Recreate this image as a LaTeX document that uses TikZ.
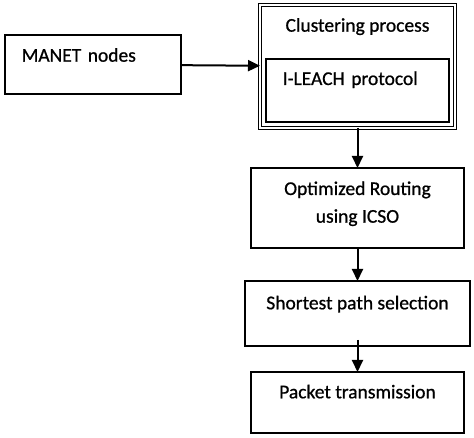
\documentclass[tikz,border=0pt]{standalone}
\usepackage{fontspec}
\setmainfont{Carlito}[FakeBold=0.8]
\usetikzlibrary{positioning}
\usetikzlibrary{fit}
\usetikzlibrary{arrows.meta}
\tikzset{
  myarrow/.style={
    draw=black,
    line width=2pt,
    -{Triangle[length=12pt,width=11pt]},
  },
  mybox/.style={
    draw=black,
    shape=rectangle,
    line width=1.8pt,
    align=center,
    inner xsep=0pt,
    inner ysep=0pt,
    outer sep=0pt,
    font=\fontsize{19.5}{27.7}\selectfont
  },
  myframe/.style={
    draw=black,
    double,
    double distance=1.3pt,
    line width=1.2pt,
    inner sep=6pt,
    outer sep=0pt,
  },
}

\begin{document}
\begin{tikzpicture}[x=1pt,y=1pt]
    \useasboundingbox (0,0) rectangle (474,-438);

    \node[mybox, align=left, text width=142.6pt, inner xsep=16.7pt, text height=26.7pt, text depth=32.3pt] (manet) at (93,-64.5) {MANET nodes};

    \node[mybox, align=left, text width=149.6pt, inner xsep=16.7pt, text height=26pt, text depth=37pt] (ileach) at (357.5,-90.5) {I-LEACH protocol};
    \node[mybox, draw=none, text height=20.7pt, text depth=5pt] (clustertitle) [above=22.3pt of ileach] {Clustering process};
    \node[myframe, fit=(clustertitle)(ileach)] (cluster) {};

    \node[mybox, minimum width=213pt, text height=54.7pt, text depth=25.3pt] (routing) [below=40pt of cluster] {Optimized Routing\\using ICSO};
    \node[mybox, minimum width=225pt, text height=28.3pt, text depth=36.7pt] (shortest) [below=33pt of routing] {Shortest path selection};
    \node[mybox, minimum width=213pt, text height=26.3pt, text depth=34.7pt] (packet) [below=26pt of shortest] {Packet transmission};

    \draw[myarrow] (manet) -- (cluster);
    \draw[myarrow] (cluster) -- (routing);
    \draw[myarrow] (routing) -- (shortest);
    \draw[myarrow, shorten <=-6pt] (shortest.south) -- (packet);
  \end{tikzpicture}
\end{document}
